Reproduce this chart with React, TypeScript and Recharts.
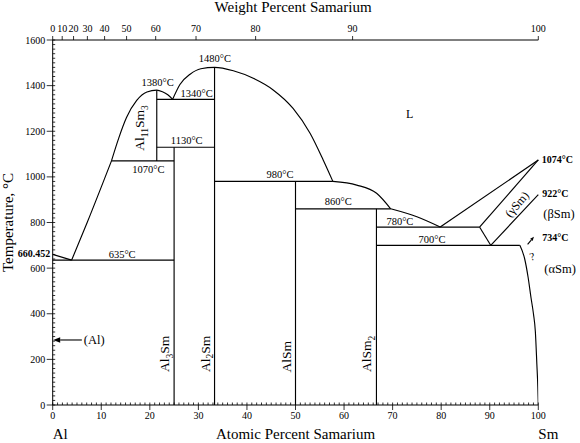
import React from 'react';
import { ComposedChart, Line, XAxis, YAxis, ReferenceLine, ReferenceDot } from 'recharts';

const FONT = '"Liberation Serif", "Times New Roman", Times, serif';
const INK = '#000';

// ---------- axis ticks ----------
const atomicMinorTicks = Array.from({ length: 101 }, (_, i) => i);
const tempMinorTicks = Array.from({ length: 81 }, (_, i) => i * 20);
const weightLabels = [0, 10, 20, 30, 40, 50, 60, 70, 80, 90, 100];
const AL_MASS = 26.9815;
const SM_MASS = 150.36;
const weightToAtomic = (w: number) =>
  w >= 100 ? 100 : ((w / SM_MASS) / (w / SM_MASS + (100 - w) / AL_MASS)) * 100;
const weightTickPositions = weightLabels.map(weightToAtomic);

// ---------- phase boundary curves (atomic % Sm, °C) ----------
const alLiquidusStart = [
  { x: 0, t: 660.452 },
  { x: 3.9, t: 635 },
];
const alLiquidusLow = [
  { x: 3.9, t: 635 },
  { x: 7.1, t: 800 },
  { x: 12.1, t: 1070 },
];
const al11Sm3Liquidus = [
  { x: 12.1, t: 1070 },
  { x: 13.6, t: 1170 },
  { x: 15.2, t: 1260 },
  { x: 17.3, t: 1335 },
  { x: 19.4, t: 1372 },
  { x: 21.43, t: 1380 },
  { x: 22.6, t: 1373 },
  { x: 23.7, t: 1360 },
  { x: 24.7, t: 1340 },
];
const al2SmLiquidus = [
  { x: 24.7, t: 1340 },
  { x: 26.2, t: 1405 },
  { x: 28.3, t: 1450 },
  { x: 30.5, t: 1474 },
  { x: 33.33, t: 1480 },
  { x: 37.2, t: 1465 },
  { x: 41.3, t: 1432 },
  { x: 45.4, t: 1381 },
  { x: 49.5, t: 1300 },
  { x: 53.0, t: 1191 },
  { x: 55.7, t: 1074 },
  { x: 57.7, t: 980 },
];
const alSmLiquidus = [
  { x: 57.7, t: 980 },
  { x: 62.6, t: 964 },
  { x: 66.7, t: 928 },
  { x: 69.6, t: 860 },
];
const alSm2Liquidus = [
  { x: 69.6, t: 860 },
  { x: 75.0, t: 825 },
  { x: 79.8, t: 780 },
];
const alphaSmSolvus = [
  { x: 96.2, t: 700 },
  { x: 97.2, t: 640 },
  { x: 97.9, t: 560 },
  { x: 98.5, t: 470 },
  { x: 99.0, t: 400 },
  { x: 99.4, t: 320 },
  { x: 99.7, t: 180 },
  { x: 99.9, t: 80 },
  { x: 100, t: 0 },
];
const curves = [
  { data: alLiquidusStart, type: 'linear' },
  { data: alLiquidusLow, type: 'monotone' },
  { data: al11Sm3Liquidus, type: 'monotone' },
  { data: al2SmLiquidus, type: 'monotone' },
  { data: alSmLiquidus, type: 'monotone' },
  { data: alSm2Liquidus, type: 'monotone' },
  { data: alphaSmSolvus, type: 'monotone' },
];

// ---------- straight lines ----------
const isotherms = [
  { t: 635, from: 0, to: 25 },
  { t: 1070, from: 12.1, to: 25 },
  { t: 1130, from: 21.43, to: 33.33 },
  { t: 1340, from: 21.43, to: 33.33 },
  { t: 980, from: 33.33, to: 57.7 },
  { t: 860, from: 50, to: 69.6 },
  { t: 780, from: 66.67, to: 87.9 },
  { t: 700, from: 66.67, to: 96.2 },
];
const compoundLines = [
  { x: 21.43, from: 1070, to: 1380 },
  { x: 25, from: 0, to: 1130 },
  { x: 33.33, from: 0, to: 1480 },
  { x: 50, from: 0, to: 980 },
  { x: 66.67, from: 0, to: 860 },
];
const smSideLines = [
  [{ x: 79.8, t: 780 }, { x: 100, t: 1074 }],
  [{ x: 87.9, t: 780 }, { x: 100, t: 1074 }],
  [{ x: 87.9, t: 780 }, { x: 90.2, t: 700 }],
  [{ x: 90.2, t: 700 }, { x: 100, t: 922 }],
];
const arrows = [
  [{ x: 6.0, t: 285 }, { x: 0.1, t: 285 }],
  [{ x: 97.8, t: 704 }, { x: 99.1, t: 737 }],
];

// ---------- text annotations ----------
const tempNotes = [
  { label: '1380°C', x: 21.6, t: 1398 },
  { label: '1340°C', x: 29.65, t: 1349 },
  { label: '1480°C', x: 33.4, t: 1502 },
  { label: '1130°C', x: 27.6, t: 1143 },
  { label: '1070°C', x: 19.7, t: 1016 },
  { label: '980°C', x: 46.8, t: 996 },
  { label: '860°C', x: 58.8, t: 875 },
  { label: '780°C', x: 71.5, t: 788 },
  { label: '700°C', x: 78.1, t: 710 },
  { label: '635°C', x: 14.3, t: 643 },
];
const boldNotes = [
  { label: '1074°C', x: 100, t: 1061, anchor: 'start', dx: 3.5 },
  { label: '922°C', x: 100, t: 910, anchor: 'start', dx: 4 },
  { label: '734°C', x: 100, t: 720, anchor: 'start', dx: 4 },
  { label: '660.452', x: 0, t: 647, anchor: 'end', dx: -2.5 },
];
const phaseNotes = [
  { label: 'L', x: 73.5, t: 1259, anchor: 'middle', dx: 0, size: 12, rot: 0 },
  { label: '(βSm)', x: 100, t: 820, anchor: 'start', dx: 5, size: 12.5, rot: 0 },
  { label: '(αSm)', x: 100, t: 577, anchor: 'start', dx: 6, size: 12.5, rot: 0 },
  { label: '(Al)', x: 6.4, t: 267, anchor: 'start', dx: 0, size: 12.5, rot: 0 },
  { label: '?', x: 98.7, t: 652, anchor: 'middle', dx: 0, size: 11, rot: -15 },
  { label: '(γSm)', x: 95.6, t: 880, anchor: 'middle', dx: 0, size: 12, rot: -49 },
];
const compoundNotes = [
  { parts: [['Al', 0], ['11', 1], ['Sm', 0], ['3', 1]], x: 18.9, t: 1214 },
  { parts: [['Al', 0], ['3', 1], ['Sm', 0]], x: 24.05, t: 224 },
  { parts: [['Al', 0], ['2', 1], ['Sm', 0]], x: 32.3, t: 224 },
  { parts: [['AlSm', 0]], x: 49.1, t: 212 },
  { parts: [['AlSm', 0], ['2', 1]], x: 65.6, t: 224 },
];
const axisTitles = [
  { label: 'Weight Percent Samarium', x: 49.5, t: 1724, anchor: 'middle', rot: 0 },
  { label: 'Atomic Percent Samarium', x: 50, t: -147, anchor: 'middle', rot: 0 },
  { label: 'Al', x: 0, t: -147, anchor: 'start', rot: 0 },
  { label: 'Sm', x: 100, t: -147, anchor: 'start', rot: 0 },
  { label: 'Temperature, °C', x: -8.2, t: 800, anchor: 'middle', rot: -90 },
];

// ---------- custom tick renderers ----------
const BottomTick = (p: any) => {
  const { x, y, payload } = p;
  const v = payload.value;
  const major = v % 10 === 0;
  return (
    <g>
      <line x1={x} x2={x} y1={y - 2.5} y2={major ? y + 5 : y} stroke={INK} strokeWidth={0.8} />
      {major && (
        <text x={x} y={y + 14} textAnchor="middle" fontSize={10} fontFamily={FONT} fill={INK}>
          {v}
        </text>
      )}
    </g>
  );
};
const LeftTick = (p: any) => {
  const { x, y, payload } = p;
  const v = payload.value;
  const major = v % 200 === 0;
  return (
    <g>
      <line x1={major ? x - 6 : x} x2={x + 2.5} y1={y} y2={y} stroke={INK} strokeWidth={0.8} />
      {major && (
        <text x={x - 7.5} y={y + 3.5} textAnchor="end" fontSize={10} fontFamily={FONT} fill={INK}>
          {v}
        </text>
      )}
    </g>
  );
};
const RightTick = (p: any) => {
  const { x, y, payload } = p;
  const major = payload.value % 200 === 0;
  return <line x1={x - (major ? 5 : 2.5)} x2={x} y1={y} y2={y} stroke={INK} strokeWidth={0.8} />;
};
const TopInnerTick = (p: any) => {
  const { x, y, payload } = p;
  const major = payload.value % 10 === 0;
  return <line x1={x} x2={x} y1={y} y2={y + (major ? 4 : 2.5)} stroke={INK} strokeWidth={0.8} />;
};
const TopWeightTick = (p: any) => {
  const { x, y, index } = p;
  return (
    <g>
      <line x1={x} x2={x} y1={y} y2={y - 4} stroke={INK} strokeWidth={0.8} />
      <text x={x} y={y - 8.5} textAnchor="middle" fontSize={10} fontFamily={FONT} fill={INK}>
        {weightLabels[index]}
      </text>
    </g>
  );
};

// ---------- shapes ----------
const textShape =
  (label: any, opts: { anchor?: string; size?: number; weight?: string; dx?: number; rot?: number; central?: boolean }) =>
  (p: any) => {
    const { cx, cy } = p;
    if (cx == null || cy == null) return <g />;
    const x = cx + (opts.dx || 0);
    const rot = opts.rot || 0;
    return (
      <text
        x={x}
        y={cy}
        textAnchor={opts.anchor || 'middle'}
        dominantBaseline={opts.central ? 'central' : 'auto'}
        fontSize={opts.size || 10.5}
        fontWeight={opts.weight || 'normal'}
        fontFamily={FONT}
        fill={INK}
        transform={rot ? `rotate(${rot} ${x} ${cy})` : undefined}
      >
        {label}
      </text>
    );
  };

const compoundShape = (parts: any[]) => (p: any) => {
  const { cx, cy } = p;
  if (cx == null || cy == null) return <g />;
  let shifted = false;
  const spans = parts.map(([s, sub]: any, i: number) => {
    let dy = 0;
    if (sub && !shifted) {
      dy = 3.5;
      shifted = true;
    } else if (!sub && shifted) {
      dy = -3.5;
      shifted = false;
    }
    return (
      <tspan key={i} dy={dy} fontSize={sub ? 9.5 : 13.5}>
        {s}
      </tspan>
    );
  });
  return (
    <text
      x={cx}
      y={cy}
      textAnchor="middle"
      fontFamily={FONT}
      fill={INK}
      transform={`rotate(-90 ${cx} ${cy})`}
    >
      {spans}
    </text>
  );
};

const arrowShape = (p: any) => {
  const { x1, y1, x2, y2 } = p;
  if (x1 == null) return <g />;
  const dx = x2 - x1;
  const dy = y2 - y1;
  const len = Math.sqrt(dx * dx + dy * dy) || 1;
  const ux = dx / len;
  const uy = dy / len;
  const hl = Math.min(7, len * 0.4);
  const hw = hl * 0.4;
  const bx = x2 - ux * hl;
  const by = y2 - uy * hl;
  const pts = `${x2},${y2} ${bx - uy * hw},${by + ux * hw} ${bx + uy * hw},${by - ux * hw}`;
  return (
    <g>
      <line x1={x1} y1={y1} x2={bx} y2={by} stroke={INK} strokeWidth={1.1} />
      <polygon points={pts} fill={INK} />
    </g>
  );
};

const LINE_W = 1.15;

export default function App() {
  return (
    <div style={{ position: 'absolute', left: 0, top: 0, width: 580, height: 443, background: '#fff' }}>
      <ComposedChart width={580} height={443} margin={{ top: 0, right: 41.7, bottom: 0, left: 7.7 }}>
        <XAxis
          xAxisId="b"
          dataKey="x"
          type="number"
          domain={[0, 100]}
          allowDataOverflow
          orientation="bottom"
          height={38}
          ticks={atomicMinorTicks}
          interval={0}
          tickSize={0}
          tickMargin={0}
          tickLine={false}
          tick={BottomTick}
          axisLine={{ stroke: INK, strokeWidth: 1 }}
        />
        <XAxis
          xAxisId="tw"
          dataKey="x"
          type="number"
          domain={[0, 100]}
          allowDataOverflow
          orientation="top"
          height={40}
          ticks={weightTickPositions}
          interval={0}
          tickSize={0}
          tickMargin={0}
          tickLine={false}
          tick={TopWeightTick}
          axisLine={{ stroke: INK, strokeWidth: 1 }}
        />
        <XAxis
          xAxisId="tm"
          dataKey="x"
          type="number"
          domain={[0, 100]}
          allowDataOverflow
          orientation="top"
          mirror
          height={0}
          ticks={atomicMinorTicks}
          interval={0}
          tickSize={0}
          tickMargin={0}
          tickLine={false}
          tick={TopInnerTick}
          axisLine={false}
        />
        <YAxis
          yAxisId="l"
          dataKey="t"
          type="number"
          domain={[0, 1600]}
          allowDataOverflow
          orientation="left"
          width={45}
          ticks={tempMinorTicks}
          interval={0}
          tickSize={0}
          tickMargin={0}
          tickLine={false}
          tick={LeftTick}
          axisLine={{ stroke: INK, strokeWidth: 1 }}
        />
        <YAxis
          yAxisId="r"
          dataKey="t"
          type="number"
          domain={[0, 1600]}
          allowDataOverflow
          orientation="right"
          width={0}
          ticks={tempMinorTicks}
          interval={0}
          tickSize={0}
          tickMargin={0}
          tickLine={false}
          tick={RightTick}
          axisLine={{ stroke: INK, strokeWidth: 1 }}
        />

        {/* invisible series that bind the frame axes (top and right) to data */}
        <Line
          xAxisId="tw"
          yAxisId="r"
          data={alphaSmSolvus}
          dataKey="t"
          stroke="none"
          dot={false}
          activeDot={false}
          legendType="none"
          isAnimationActive={false}
        />
        <Line
          xAxisId="tm"
          yAxisId="r"
          data={alphaSmSolvus}
          dataKey="t"
          stroke="none"
          dot={false}
          activeDot={false}
          legendType="none"
          isAnimationActive={false}
        />

        {isotherms.map((s, i) => (
          <ReferenceLine
            key={`iso-${i}`}
            xAxisId="b"
            yAxisId="l"
            ifOverflow="visible"
            segment={[
              { x: s.from, y: s.t },
              { x: s.to, y: s.t },
            ]}
            stroke={INK}
            strokeWidth={LINE_W}
          />
        ))}
        {compoundLines.map((s, i) => (
          <ReferenceLine
            key={`cmp-${i}`}
            xAxisId="b"
            yAxisId="l"
            ifOverflow="visible"
            segment={[
              { x: s.x, y: s.from },
              { x: s.x, y: s.to },
            ]}
            stroke={INK}
            strokeWidth={LINE_W}
          />
        ))}
        {smSideLines.map((s, i) => (
          <ReferenceLine
            key={`sm-${i}`}
            xAxisId="b"
            yAxisId="l"
            ifOverflow="visible"
            segment={[
              { x: s[0].x, y: s[0].t },
              { x: s[1].x, y: s[1].t },
            ]}
            stroke={INK}
            strokeWidth={LINE_W}
          />
        ))}
        {arrows.map((s, i) => (
          <ReferenceLine
            key={`arr-${i}`}
            xAxisId="b"
            yAxisId="l"
            ifOverflow="visible"
            segment={[
              { x: s[0].x, y: s[0].t },
              { x: s[1].x, y: s[1].t },
            ]}
            shape={arrowShape}
          />
        ))}

        {curves.map((c, i) => (
          <Line
            key={`curve-${i}`}
            xAxisId="b"
            yAxisId="l"
            data={c.data}
            dataKey="t"
            type={c.type as any}
            stroke={INK}
            strokeWidth={LINE_W}
            dot={false}
            activeDot={false}
            isAnimationActive={false}
          />
        ))}

        {tempNotes.map((n, i) => (
          <ReferenceDot
            key={`tn-${i}`}
            xAxisId="b"
            yAxisId="l"
            x={n.x}
            y={n.t}
            r={0}
            ifOverflow="visible"
            shape={textShape(n.label, { size: 10.5 })}
          />
        ))}
        {boldNotes.map((n, i) => (
          <ReferenceDot
            key={`bn-${i}`}
            xAxisId="b"
            yAxisId="l"
            x={n.x}
            y={n.t}
            r={0}
            ifOverflow="visible"
            shape={textShape(n.label, { size: 10, weight: 'bold', anchor: n.anchor, dx: n.dx })}
          />
        ))}
        {phaseNotes.map((n, i) => (
          <ReferenceDot
            key={`pn-${i}`}
            xAxisId="b"
            yAxisId="l"
            x={n.x}
            y={n.t}
            r={0}
            ifOverflow="visible"
            shape={textShape(n.label, { size: n.size, anchor: n.anchor, dx: n.dx, rot: n.rot, central: n.rot !== 0 })}
          />
        ))}
        {compoundNotes.map((n, i) => (
          <ReferenceDot
            key={`cn-${i}`}
            xAxisId="b"
            yAxisId="l"
            x={n.x}
            y={n.t}
            r={0}
            ifOverflow="visible"
            shape={compoundShape(n.parts)}
          />
        ))}
        {axisTitles.map((n, i) => (
          <ReferenceDot
            key={`at-${i}`}
            xAxisId="b"
            yAxisId="l"
            x={n.x}
            y={n.t}
            r={0}
            ifOverflow="visible"
            shape={textShape(n.label, { size: 15, anchor: n.anchor, rot: n.rot })}
          />
        ))}
      </ComposedChart>
    </div>
  );
}
